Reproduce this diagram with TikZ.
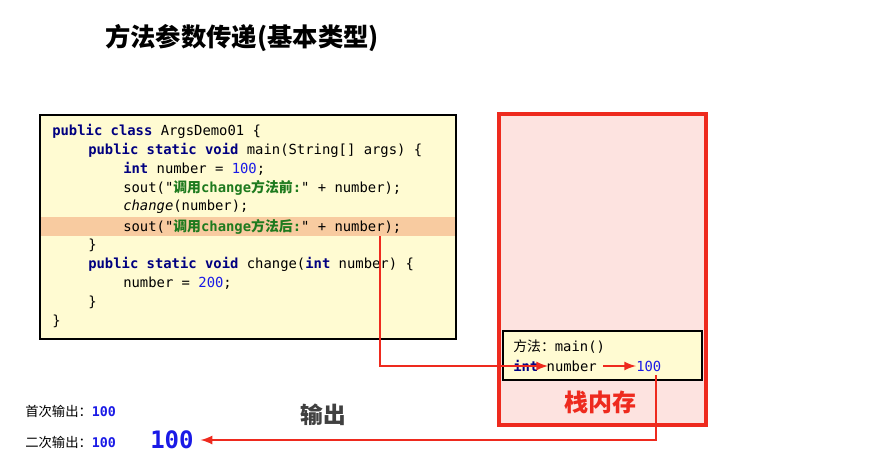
\documentclass[tikz,border=0pt]{standalone}
\usepackage{fontspec}
\setmainfont{Noto Sans CJK SC}
\setmonofont{DejaVu Sans Mono}
\newfontfamily\cjk{Noto Sans CJK SC}
\definecolor{kwblue}{HTML}{000080}
\definecolor{numblue}{HTML}{1A1AE6}
\definecolor{strgreen}{HTML}{1E7A1E}
\definecolor{codebg}{HTML}{FFFBD2}
\definecolor{hlbg}{HTML}{F8CBA0}
\definecolor{stackbg}{HTML}{FDE3E0}
\definecolor{stackred}{HTML}{EE2A1E}
\newcommand{\kw}[1]{\textcolor{kwblue}{\textbf{#1}}}
\newcommand{\nm}[1]{\textcolor{numblue}{#1}}
\newcommand{\str}[1]{\textcolor{strgreen}{\textbf{#1}}}
\begin{document}
\begin{tikzpicture}[x=0.75pt,y=-0.75pt,
    code/.style={anchor=west,inner sep=0pt,font=\ttfamily\fontsize{10.4}{12}\selectfont},
    redline/.style={stackred,line width=2pt,-latex}]
\useasboundingbox (0,0) rectangle (880,464);
% title
\node[font=\fontsize{19}{22}\selectfont\bfseries] (title) at (242,38) {方法参数传递(基本类型)};
% code box
\draw[fill=codebg,line width=1.5pt] (40,115) rectangle (456,339);
\fill[hlbg] (41,217) rectangle (455,236);
\node[code] (l1) at (52,131) {\kw{public class} ArgsDemo01 \{};
\node[code] (l2) at (88,150) {\kw{public static void} main(String[] args) \{};
\node[code] (l3) at (123,169) {\kw{int} number = \nm{100};};
\node[code] (l4) at (123,188) {sout("\str{{\cjk 调用}change{\cjk 方法前}:}" + number);};
\node[code] (l5) at (123,207) {\textit{change}(number);};
\node[code] (l6) at (123,227) {sout("\str{{\cjk 调用}change{\cjk 方法后}:}" + number);};
\node[code] (l7) at (88,245) {\}};
\node[code] (l8) at (88,264) {\kw{public static void} change(\kw{int} number) \{};
\node[code] (l9) at (123,283) {number = \nm{200};};
\node[code] (l10) at (88,302) {\}};
\node[code] (l11) at (52,321) {\}};
% stack memory
\draw[stackred,fill=stackbg,line width=2.6pt] (499,114) rectangle (706,425);
\draw[fill=codebg,line width=1.5pt] (503,331) rectangle (702,380);
\node[code] (frame) at (513,347) {{\cjk 方法：}main()};
\node[code] (var) at (513,366) {\kw{int} number};
\node[code] (val) at (636,366) {\nm{100}};
\node[font=\fontsize{18}{20}\selectfont\bfseries,text=stackred] (stack) at (600,402) {栈内存};
% outputs
\node[font=\fontsize{17}{20}\selectfont\bfseries,text=black!75] (out) at (323,415) {输出};
\node[anchor=west,inner sep=0pt,font=\fontsize{10}{12}\selectfont] (first) at (25,411) {首次输出：{\ttfamily\bfseries\nm{100}}};
\node[anchor=west,inner sep=0pt,font=\fontsize{10}{12}\selectfont] (second) at (25,442) {二次输出：{\ttfamily\bfseries\nm{100}}};
\node[anchor=west,inner sep=0pt,font=\ttfamily\bfseries\fontsize{18}{20}\selectfont,text=numblue] (big) at (150,440) {100};
% connectors
\coordinate (c1) at (380,236);
\draw[redline] (c1) |- (548,366);
\draw[redline] (603,366) -- (val.west);
\coordinate (c2) at (656,375);
\draw[redline] (c2) |- ([xshift=5pt]big.east);
\end{tikzpicture}
\end{document}
